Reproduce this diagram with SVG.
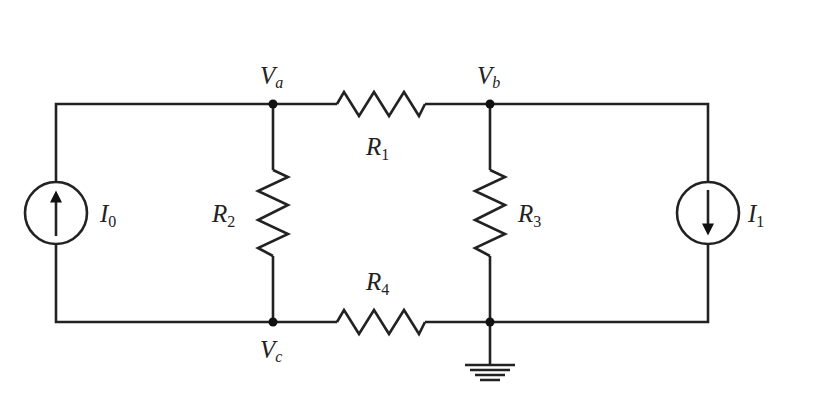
<svg xmlns="http://www.w3.org/2000/svg" width="815" height="414" viewBox="0 0 815 414">
<style>
.w{fill:none;stroke:#222;stroke-width:2.6;stroke-linejoin:miter}
.d{fill:#111}
.t{font-family:"Liberation Serif","DejaVu Serif",serif;font-style:italic;font-size:25px;fill:#222}
.s{font-size:16px;font-style:normal}
.ss{font-size:16px}
</style>
<defs>
<marker id="ah" viewBox="0 0 10 10" refX="2" refY="5" markerWidth="14" markerHeight="12" markerUnits="userSpaceOnUse" orient="auto"><path d="M0,0 L10,5 L0,10 z" fill="#111"/></marker>
</defs>
<rect width="815" height="414" fill="#fff"/>
<g id="wires" class="w">
<path d="M56,182 V104 H337 M425,104 H708 V182 M708,244 V322 H425 M337,322 H56 V244"/>
<path d="M273,104 V170 M273,256 V322"/>
<path d="M490,104 V170 M490,256 V322 M490,322 V365"/>
</g>
<g id="R1"><path class="w" d="M337,104 L344,92 L359,116 L374,92 L389,116 L404,92 L419,116 L425,104"/><text class="t" x="366" y="155">R<tspan class="s" dy="5">1</tspan></text></g>
<g id="R4"><path class="w" d="M337,322 L344,310 L359,334 L374,310 L389,334 L404,310 L419,334 L425,322"/><text class="t" x="366" y="290">R<tspan class="s" dy="5">4</tspan></text></g>
<g id="R2"><path class="w" d="M273,170 L288,177 L258,191 L288,205 L258,220 L288,234 L258,248 L273,256"/><text class="t" x="212" y="222">R<tspan class="s" dy="5">2</tspan></text></g>
<g id="R3"><path class="w" d="M490,170 L505,177 L475,191 L505,205 L475,220 L505,234 L475,248 L490,256"/><text class="t" x="518" y="222">R<tspan class="s" dy="5">3</tspan></text></g>
<g id="I0"><circle class="w" cx="56" cy="213" r="31"/><path class="w" d="M56,236 V200" marker-end="url(#ah)" stroke-width="4"/><text class="t" x="100" y="222">I<tspan class="s" dy="5">0</tspan></text></g>
<g id="I1"><circle class="w" cx="708" cy="213" r="31"/><path class="w" d="M708,190 V226" marker-end="url(#ah)" stroke-width="4"/><text class="t" x="748" y="222">I<tspan class="s" dy="5">1</tspan></text></g>
<g id="Va"><circle class="d" cx="273" cy="104" r="4.5"/><text class="t" x="260" y="84">V<tspan class="ss" dy="4">a</tspan></text></g>
<g id="Vb"><circle class="d" cx="490" cy="104" r="4.5"/><text class="t" x="477" y="84">V<tspan class="ss" dy="4">b</tspan></text></g>
<g id="Vc"><circle class="d" cx="273" cy="322" r="4.5"/><text class="t" x="260" y="358">V<tspan class="ss" dy="4">c</tspan></text></g>
<g id="gnd"><circle class="d" cx="490" cy="322" r="4.5"/><path class="w" d="M465,365 H515 M470,370 H510 M475,375 H505 M480,380 H500"/></g>
</svg>
